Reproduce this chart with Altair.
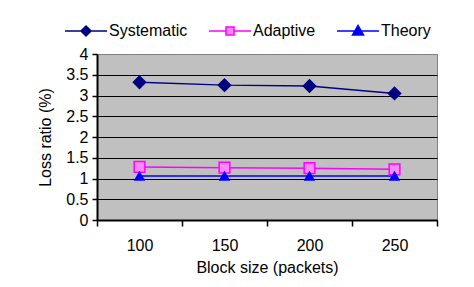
import altair as alt
import pandas as pd

# Loss ratio (%) by block size for three schemes
block_sizes = [100, 150, 200, 250]
systematic = [3.32, 3.25, 3.23, 3.05]
adaptive = [1.28, 1.26, 1.25, 1.22]
theory = [1.06, 1.06, 1.06, 1.06]

series_names = ["Systematic", "Adaptive", "Theory"]
line_colors = ["#000080", "#ff00ff", "#0000ff"]
fill_colors = ["#000080", "#ff88ff", "#0000ff"]

rows = []
for name, vals in zip(series_names, [systematic, adaptive, theory]):
    for b, v in zip(block_sizes, vals):
        rows.append({"block": b, "loss": v, "series": name})
df = pd.DataFrame(rows)

FONT = "Liberation Sans"

x_enc = alt.X(
    "block:Q",
    title="Block size (packets)",
    scale=alt.Scale(domain=[75, 275], nice=False, zero=False),
    axis=alt.Axis(
        values=[75, 100, 125, 150, 175, 200, 225, 250, 275],
        labelExpr="datum.value % 50 == 0 ? datum.label : ''",
        tickOpacity=alt.condition("datum.value % 50 == 25", alt.value(1), alt.value(0)),
        grid=False,
        tickSize=6,
        labelPadding=11,
        titlePadding=6,
    ),
)
y_enc = alt.Y(
    "loss:Q",
    title="Loss ratio (%)",
    scale=alt.Scale(domain=[0, 4], nice=False),
    axis=alt.Axis(
        values=[0, 0.5, 1, 1.5, 2, 2.5, 3, 3.5, 4],
        format=".1~f",
        tickSize=5,
        labelPadding=4,
        titlePadding=12,
        gridColor=alt.condition("datum.value == 4", alt.value("#808080"), alt.value("#000000")),
    ),
)

lines = alt.Chart(df).mark_line(strokeWidth=1.5).encode(
    x=x_enc,
    y=y_enc,
    color=alt.Color(
        "series:N",
        sort=series_names,
        scale=alt.Scale(domain=series_names, range=line_colors),
        legend=None,
    ),
)

# Legend symbols: a short line segment with the series marker on it
legend_shape = (
    "datum.value === 'Systematic' ? 'M-4.2,0H4.2M0,-1L1,0L0,1L-1,0Z' : "
    "datum.value === 'Adaptive' ? 'M-4.2,0H-0.8M0.8,0H4.2M-0.8,-0.8H0.8V0.8H-0.8Z' : "
    "'M-4.2,0H4.2M0,-1.1L1.1,0.8H-1.1Z'"
)
legend_stroke = (
    "datum.value === 'Systematic' ? '#000080' : "
    "datum.value === 'Adaptive' ? '#ff00ff' : '#0000ff'"
)
legend_fill = (
    "datum.value === 'Systematic' ? '#000080' : "
    "datum.value === 'Adaptive' ? '#ff88ff' : '#0000ff'"
)

points = alt.Chart(df).mark_point(filled=True, strokeWidth=1.5).encode(
    x=x_enc,
    y=y_enc,
    shape=alt.Shape(
        "series:N",
        sort=series_names,
        scale=alt.Scale(domain=series_names, range=["diamond", "square", "triangle-up"]),
        legend=None,
    ),
    size=alt.Size(
        "series:N",
        sort=series_names,
        scale=alt.Scale(domain=series_names, range=[150, 80, 150]),
        legend=None,
    ),
    fill=alt.Fill(
        "series:N",
        sort=series_names,
        scale=alt.Scale(domain=series_names, range=fill_colors),
        legend=None,
    ),
    stroke=alt.Stroke(
        "series:N",
        sort=series_names,
        scale=alt.Scale(domain=series_names, range=line_colors),
        legend=None,
    ),
    # the legend is carried by a constant opacity scale (domain taken from the data)
    opacity=alt.Opacity(
        "series:N",
        sort=series_names,
        scale=alt.Scale(range=[1, 1, 1]),
        legend=alt.Legend(
            title=None,
            orient="none",
            direction="horizontal",
            legendX=-19,
            legendY=-31,
            symbolSize=100,
            symbolType={"expr": legend_shape},
            symbolFillColor={"expr": legend_fill},
            symbolStrokeColor={"expr": legend_stroke},
            symbolStrokeWidth=1.5,
            labelFont=FONT,
            labelFontSize=16,
            labelColor="#000000",
            labelOffset=15,
            columnPadding=18,
        ),
    ),
)

chart = (
    alt.layer(lines, points)
    .resolve_scale(color="independent", stroke="independent", fill="independent")
    .properties(
        width=340,
        height=166,
        autosize=alt.AutoSizeParams(type="none"),
        padding={"left": 97, "top": 54, "right": 37, "bottom": 67},
        background="#ffffff",
    )
    .configure_view(fill="#c0c0c0", stroke="#808080", strokeWidth=1)
    .configure_axis(
        labelFont=FONT,
        titleFont=FONT,
        labelFontSize=16,
        titleFontSize=16,
        titleFontWeight="normal",
        labelColor="#000000",
        titleColor="#000000",
        domainColor="#000000",
        domainWidth=2,
        tickColor="#000000",
        tickWidth=1.5,
        gridWidth=1,
    )
)

chart.save("out.html", embed_options={"renderer": "svg", "actions": False})
